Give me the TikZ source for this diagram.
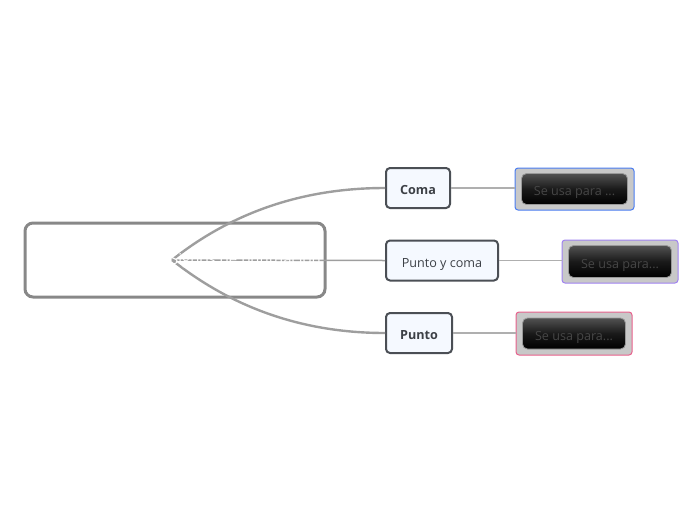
\documentclass[tikz,border=0pt]{standalone}
\usepackage{fontspec}
\setmainfont{Open Sans}
\usepackage{tikz}
\usetikzlibrary{positioning, calc}
\definecolor{hubGray}{RGB}{136, 136, 136}
\definecolor{branchGray}{RGB}{158, 158, 158}
\definecolor{linkGray}{RGB}{175, 175, 175}
\definecolor{topicEdge}{RGB}{75, 79, 85}
\definecolor{topicFill}{RGB}{245, 249, 255}
\definecolor{topicText}{RGB}{60, 64, 70}
\definecolor{noteText}{RGB}{70, 70, 70}
\definecolor{leafFill}{RGB}{200, 200, 200}
\definecolor{edgeBlue}{RGB}{74, 124, 240}
\definecolor{edgeViolet}{RGB}{160, 130, 240}
\definecolor{edgePink}{RGB}{232, 96, 140}
\tikzset{
  hub/.style={
    rectangle, rounded corners=8pt,
    draw=hubGray, line width=3pt, fill=white,
    minimum width=300pt, minimum height=74pt
  },
  topic/.style={
    rectangle, rounded corners=4pt,
    draw=topicEdge, line width=2pt, fill=topicFill,
    minimum height=40pt, inner xsep=0pt,
    text height=13pt, text depth=0pt,
    align=center, text=topicText, font=\fontsize{12.6}{14}\selectfont
  },
  leaf/.style={
    rectangle, rounded corners=3pt,
    line width=1pt, fill=leafFill,
    minimum width=117pt, minimum height=43pt
  },
  note/.style={
    rectangle, rounded corners=5pt,
    top color=black!68, bottom color=black, middle color=black!90,
    draw=black!40, line width=0.8pt,
    minimum width=104pt, minimum height=31pt,
    text height=13pt, text depth=0pt,
    text=noteText, font=\fontsize{12.6}{14}\selectfont
  },
  branch/.style={
    draw=branchGray, line width=2.4pt
  },
  link/.style={
    draw=linkGray, line width=1.2pt
  }
}
\begin{document}
\begin{tikzpicture}[x=1pt, y=-1pt]
\useasboundingbox (0,0) rectangle (696,520);

% --- central topic ---
\node[hub] (main) at (175,260) {};
\coordinate (hubc) at (172,260);

% --- topics ---
\node[topic, minimum width=64pt, font=\fontsize{12.6}{14}\selectfont\bfseries] (coma) at (418,188) {Coma};
\node[topic, minimum width=112pt] (pyc) at (442,260.5) {Punto y coma};
\node[topic, minimum width=66pt, font=\fontsize{12.6}{14}\selectfont\bfseries] (punto) at (419,333) {Punto};

% --- notes ---
\node[leaf, draw=edgeBlue, minimum width=119pt, minimum height=42pt] (comaleaf) at (574.5,189) {};
\node[note, minimum width=106pt] (comanote) at (comaleaf.center) {Se usa para ...};

\node[leaf, draw=edgeViolet, minimum width=116pt] (pycleaf) at (620,261.5) {};
\node[note, minimum width=103pt, minimum height=32pt] (pycnote) at (pycleaf.center) {Se usa para...};

\node[leaf, draw=edgePink, minimum width=116pt] (puntoleaf) at (574,333.5) {};
\node[note, minimum width=103pt] (puntonote) at (puntoleaf.center) {Se usa para...};

% --- branches ---
\draw[branch] (hubc) .. controls (230,214) and (300,188) .. (coma.west);
\draw[branch, line width=1.5pt] (hubc) -- (pyc.west);
\draw[branch] (hubc) .. controls (230,306) and (300,333) .. (punto.west);

% --- links to notes ---
\draw[link] (coma.east) -- (coma.east -| comaleaf.west);
\draw[link] (pyc.east) -- (pyc.east -| pycleaf.west);
\draw[link] (punto.east) -- (punto.east -| puntoleaf.west);

% central label
\node[anchor=west, text=white, font=\fontsize{15}{17}\selectfont, inner sep=0pt] (mainlabel) at (170,261) {Signos de puntuación};

\end{tikzpicture}
\end{document}
